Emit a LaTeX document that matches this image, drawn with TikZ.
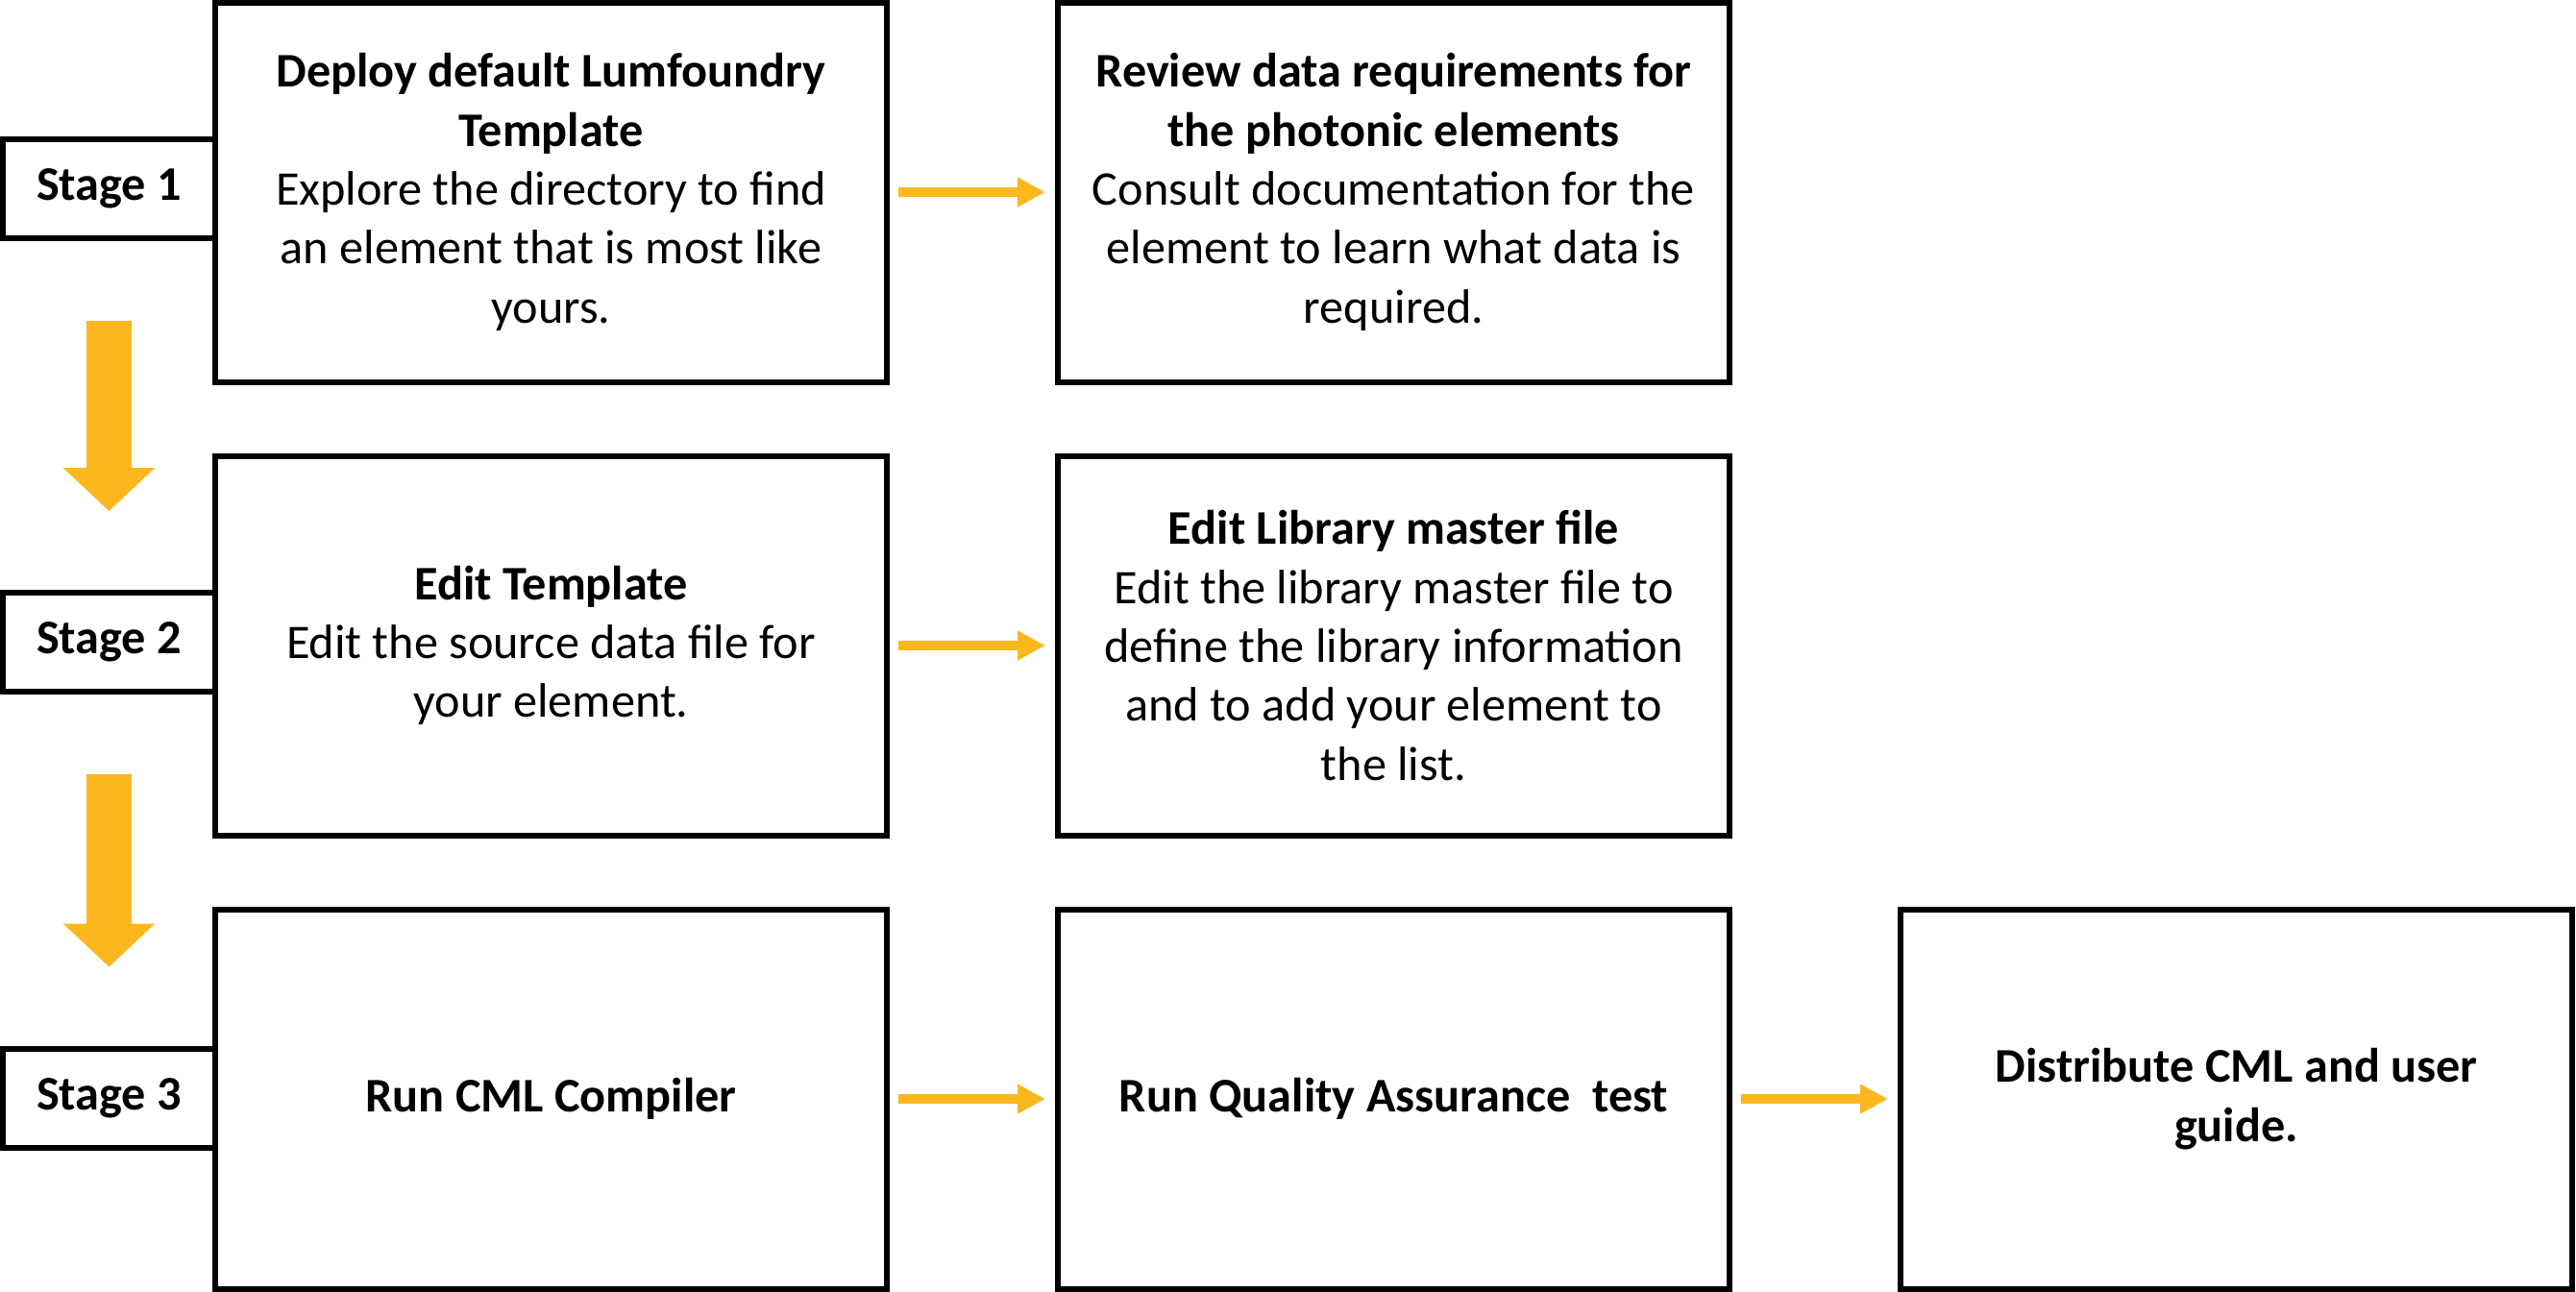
\documentclass[tikz,border=0pt]{standalone}
\usepackage{fontspec}
\setmainfont{Carlito}
\usetikzlibrary{arrows.meta, positioning}
\definecolor{stageorange}{RGB}{253,183,30}

\begin{document}
\begin{tikzpicture}[
  node distance=0.77cm and 1.78cm,
  taskbox/.style={draw, rectangle, line width=0.06cm, outer sep=0pt, minimum width=6.99cm, minimum height=3.95cm, align=center, font=\fontsize{14.3}{17.45}\selectfont},
  stagebox/.style={draw, rectangle, line width=0.06cm, outer sep=0pt, minimum width=2.21cm, minimum height=1.03cm, font=\fontsize{14.3}{17.45}\selectfont\bfseries},
  flow/.style={-{Triangle[length=0.29cm, width=0.29cm]}, line width=0.1cm, stageorange, shorten <=0.12cm, shorten >=0.13cm},
  stagedown/.style={-{Triangle[length=0.45cm, width=0.93cm]}, line width=0.47cm, stageorange, shorten <=0.86cm, shorten >=0.85cm}
]
  \useasboundingbox (0,0) rectangle (26.81,-13.45);
  % Row 1: deploy and review
  \node[taskbox] (deploy) at (5.735,-2.00) {
    \textbf{Deploy default Lumfoundry}\\
    \textbf{Template}\\
    Explore the directory to find\\
    an element that is most like\\
    yours.
  };
  \node[taskbox, right=of deploy] (review) {
    \textbf{Review data requirements for}\\
    \textbf{the photonic elements}\\
    Consult documentation for the\\
    element to learn what data is\\
    required.
  };
  % Row 2: edit template and library file
  \node[taskbox, below=of deploy] (edit) {
    \textbf{Edit Template}\\
    Edit the source data file for\\
    your element.
  };
  \node[taskbox, right=of edit] (library) {
    \textbf{Edit Library master file}\\
    Edit the library master file to\\
    define the library information\\
    and to add your element to\\
    the list.
  };
  % Row 3: compile, test, distribute
  \node[taskbox, below=of edit] (compile) {\textbf{Run CML Compiler}};
  \node[taskbox, right=of compile] (quality) {\textbf{Run Quality Assurance\ \ test}};
  \node[taskbox, right=of quality] (distribute) {
    \textbf{Distribute CML and user}\\
    \textbf{guide.}
  };
  % Stage labels
  \node[stagebox, left=0pt of deploy, yshift=0.035cm] (stage1) {Stage 1};
  \node[stagebox, left=0pt of edit, yshift=0.035cm] (stage2) {Stage 2};
  \node[stagebox, left=0pt of compile, yshift=0.01cm] (stage3) {Stage 3};
  % Arrows
  \draw[flow] (deploy) -- (review);
  \draw[flow] (edit) -- (library);
  \draw[flow] (compile) -- (quality);
  \draw[flow] (quality) -- (distribute);
  \draw[stagedown] (stage1) -- (stage2);
  \draw[stagedown] (stage2) -- (stage3);
\end{tikzpicture}
\end{document}
